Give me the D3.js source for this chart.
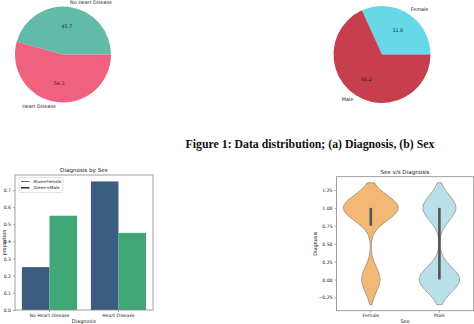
<!DOCTYPE html>
<html>
<head>
<meta charset="utf-8">
<script src="https://cdn.jsdelivr.net/npm/d3@7"></script>
<style>
  html, body { margin: 0; padding: 0; background: #fff; }
  svg { display: block; }
  text { font-family: "DejaVu Sans", sans-serif; fill: #222; }
  .caption { font-family: "Liberation Serif", "DejaVu Serif", serif; font-weight: bold; fill: #111; }
</style>
</head>
<body>
<svg id="fig" width="474" height="324"></svg>
<script>
// ---- data ----
const diagnosisLabels = ["No Heart Disease", "Heart Disease"];
const diagnosisShare  = [45.7, 54.3];
const diagnosisColors = ["#62bba8", "#f0617f"];

const sexLabels = ["Female", "Male"];
const sexShare  = [31.8, 68.2];
const sexColors = ["#66d8e8", "#c73f4f"];

// proportion of each diagnosis within each sex
const barCategories = ["No Heart Disease", "Heart Disease"];
const femaleProportion = [0.25, 0.75];
const maleProportion   = [0.55, 0.45];
const barColors = ["#3b5e80", "#41a776"];
const barTicks = [0.0, 0.1, 0.2, 0.3, 0.4, 0.5, 0.6, 0.7];

// violin: share of diagnosis 0 / 1 per sex
const violinGroups = ["Female", "Male"];
const violinShareNo  = [0.25, 0.55];
const violinShareYes = [0.75, 0.45];
const violinBandwidth = [0.175, 0.175];
const violinQ1 = [0.75, 0.0];
const violinQ3 = [1.0, 1.0];
const violinColors = ["#f4b876", "#b9dfe9"];
const violinTicks = [-0.25, 0.0, 0.25, 0.5, 0.75, 1.0, 1.25];

const svg = d3.select("#fig");
svg.append("rect").attr("width", 474).attr("height", 324).attr("fill", "#fff");

// ---- pies (start at 3 o'clock, counter-clockwise) ----
function drawPie(cx, cy, r, labels, values, colors) {
  const g = svg.append("g").attr("transform", `translate(${cx},${cy})`);
  const pie = d3.pie().sort(null).startAngle(Math.PI / 2).endAngle(Math.PI / 2 - 2 * Math.PI);
  const arcs = pie(values);
  const arc = d3.arc().innerRadius(0).outerRadius(r);
  g.selectAll("path").data(arcs).join("path")
    .attr("d", arc).attr("fill", (d, i) => colors[i]);
  arcs.forEach((d, i) => {
    const a = (d.startAngle + d.endAngle) / 2;   // d3 angle: 0 = up, clockwise
    const dx = Math.sin(a), dy = -Math.cos(a);
    g.append("text")
      .attr("x", 1.1 * r * dx).attr("y", 1.1 * r * dy)
      .attr("dy", "0.35em")
      .attr("text-anchor", dx >= 0 ? "start" : "end")
      .attr("font-size", 4.8)
      .text(labels[i]);
    g.append("text")
      .attr("x", 0.6 * r * dx).attr("y", 0.6 * r * dy)
      .attr("dy", "0.35em")
      .attr("text-anchor", "middle")
      .attr("font-size", 4.8)
      .text(values[i].toFixed(1));
  });
}
drawPie(63, 54.5, 48, diagnosisLabels, diagnosisShare, diagnosisColors);
drawPie(382, 54.5, 48.5, sexLabels, sexShare, sexColors);

// ---- caption ----
svg.append("text").attr("class", "caption")
  .attr("x", 310).attr("y", 147.5).attr("text-anchor", "middle")
  .attr("font-size", 11.8)
  .text("Figure 1: Data distribution; (a) Diagnosis, (b) Sex");

// ---- grouped bar chart ----
(function () {
  const L = 15, R = 153, T = 175, B = 310;
  const x = d3.scaleBand().domain(barCategories).range([L, R]).padding(0);
  const xs = d3.scaleBand().domain([0, 1]).range([0.1 * x.bandwidth(), 0.9 * x.bandwidth()]).padding(0);
  const y = d3.scaleLinear().domain([0, 0.7875]).range([B, T]);
  const g = svg.append("g");
  const series = [femaleProportion, maleProportion];
  series.forEach((vals, s) => {
    g.selectAll(null).data(barCategories).join("rect")
      .attr("x", c => x(c) + xs(s))
      .attr("width", xs.bandwidth())
      .attr("y", (c, i) => y(vals[i]))
      .attr("height", (c, i) => y(0) - y(vals[i]))
      .attr("fill", barColors[s]);
  });
  const ya = d3.axisLeft(y).tickValues(barTicks).tickFormat(d3.format(".1f")).tickSize(2).tickPadding(2);
  const xa = d3.axisBottom(x).tickSize(2).tickPadding(1.5);
  const gy = g.append("g").attr("transform", `translate(${L},0)`).call(ya);
  const gx = g.append("g").attr("transform", `translate(0,${B})`).call(xa);
  [gx, gy].forEach(a => {
    a.select(".domain").remove();
    a.selectAll("line").attr("stroke", "#555").attr("stroke-width", 0.5);
    a.selectAll("text").attr("font-size", 4.6).attr("fill", "#333").style("font-family", "DejaVu Sans");
  });
  g.append("rect").attr("x", L).attr("y", T).attr("width", R - L).attr("height", B - T)
    .attr("fill", "none").attr("stroke", "#888").attr("stroke-width", 0.8);
  g.append("text").attr("x", (L + R) / 2).attr("y", 171.5).attr("text-anchor", "middle")
    .attr("font-size", 5.6).text("Diagnosis by Sex");
  g.append("text").attr("x", (L + R) / 2).attr("y", 323).attr("text-anchor", "middle")
    .attr("font-size", 5).text("Diagnosis");
  g.append("text").attr("transform", `translate(6,${(T + B) / 2}) rotate(-90)`)
    .attr("text-anchor", "middle").attr("font-size", 5).text("proportion");
  // legend
  const lg = g.append("g");
  lg.append("rect").attr("x", 19).attr("y", 177.5).attr("width", 44).attr("height", 15).attr("rx", 1.2)
    .attr("fill", "#fff").attr("stroke", "#ccc").attr("stroke-width", 0.6);
  const legendItems = ["Blue=Female", "Green=Male"];
  legendItems.forEach((t, i) => {
    const yy = 181.5 + i * 6.3;
    lg.append("line").attr("x1", 21).attr("x2", 29.5).attr("y1", yy).attr("y2", yy)
      .attr("stroke", "#222").attr("stroke-width", i === 0 ? 0.7 : 1.4);
    lg.append("text").attr("x", 33.5).attr("y", yy).attr("dy", "0.35em")
      .attr("font-size", 4.2).text(t);
  });
})();

// ---- violin plot ----
(function () {
  const L = 336.5, R = 473.7, T = 176.7, B = 310.7;
  const x = d3.scaleBand().domain(violinGroups).range([L, R]).padding(0);
  const y = d3.scaleLinear().domain([-0.435, 1.435]).range([B, T]);
  const g = svg.append("g");

  // gaussian kernel density of the 0/1 outcome for each group
  const phi = u => Math.exp(-0.5 * u * u) / Math.sqrt(2 * Math.PI);
  const dens = violinGroups.map((grp, i) => {
    const bw = violinBandwidth[i];
    const lo = -2 * bw, hi = 1 + 2 * bw;
    const grid = d3.range(100).map(k => lo + (hi - lo) * k / 99);
    return grid.map(v => [v, (violinShareNo[i] * phi(v / bw) + violinShareYes[i] * phi((v - 1) / bw)) / bw]);
  });
  const maxD = d3.max(dens, d => d3.max(d, p => p[1]));
  const w = d3.scaleLinear().domain([0, maxD]).range([0, 0.4 * x.bandwidth()]);

  violinGroups.forEach((grp, i) => {
    const cx = x(grp) + x.bandwidth() / 2;
    const area = d3.area()
      .y(p => y(p[0]))
      .x0(p => cx - w(p[1]))
      .x1(p => cx + w(p[1]))
      .curve(d3.curveLinear);
    g.append("path").datum(dens[i]).attr("d", area)
      .attr("fill", violinColors[i]).attr("stroke", "#8a8070").attr("stroke-width", 0.7);
    g.append("line").attr("x1", cx).attr("x2", cx)
      .attr("y1", y(violinQ1[i])).attr("y2", y(violinQ3[i]))
      .attr("stroke", "#555").attr("stroke-width", 2.6);
  });

  const ya = d3.axisLeft(y).tickValues(violinTicks).tickFormat(d3.format(".2f")).tickSize(2).tickPadding(2);
  const xa = d3.axisBottom(x).tickSize(2).tickPadding(1.5);
  const gy = g.append("g").attr("transform", `translate(${L},0)`).call(ya);
  const gx = g.append("g").attr("transform", `translate(0,${B})`).call(xa);
  [gx, gy].forEach(a => {
    a.select(".domain").remove();
    a.selectAll("line").attr("stroke", "#555").attr("stroke-width", 0.5);
    a.selectAll("text").attr("font-size", 4.6).attr("fill", "#333").style("font-family", "DejaVu Sans");
  });
  gy.selectAll("text").text(d => d < 0 ? "\u22120.25" : d3.format(".2f")(d));
  g.append("rect").attr("x", L).attr("y", T).attr("width", R - L).attr("height", B - T)
    .attr("fill", "none").attr("stroke", "#888").attr("stroke-width", 0.8);
  g.append("text").attr("x", 405).attr("y", 173.5).attr("text-anchor", "middle")
    .attr("font-size", 5.6).text("Sex v/s Diagnosis");
  g.append("text").attr("x", 405).attr("y", 323).attr("text-anchor", "middle")
    .attr("font-size", 5).text("Sex");
  g.append("text").attr("transform", `translate(317,${(T + B) / 2}) rotate(-90)`)
    .attr("text-anchor", "middle").attr("font-size", 5).text("Diagnosis");
})();
</script>
</body>
</html>
